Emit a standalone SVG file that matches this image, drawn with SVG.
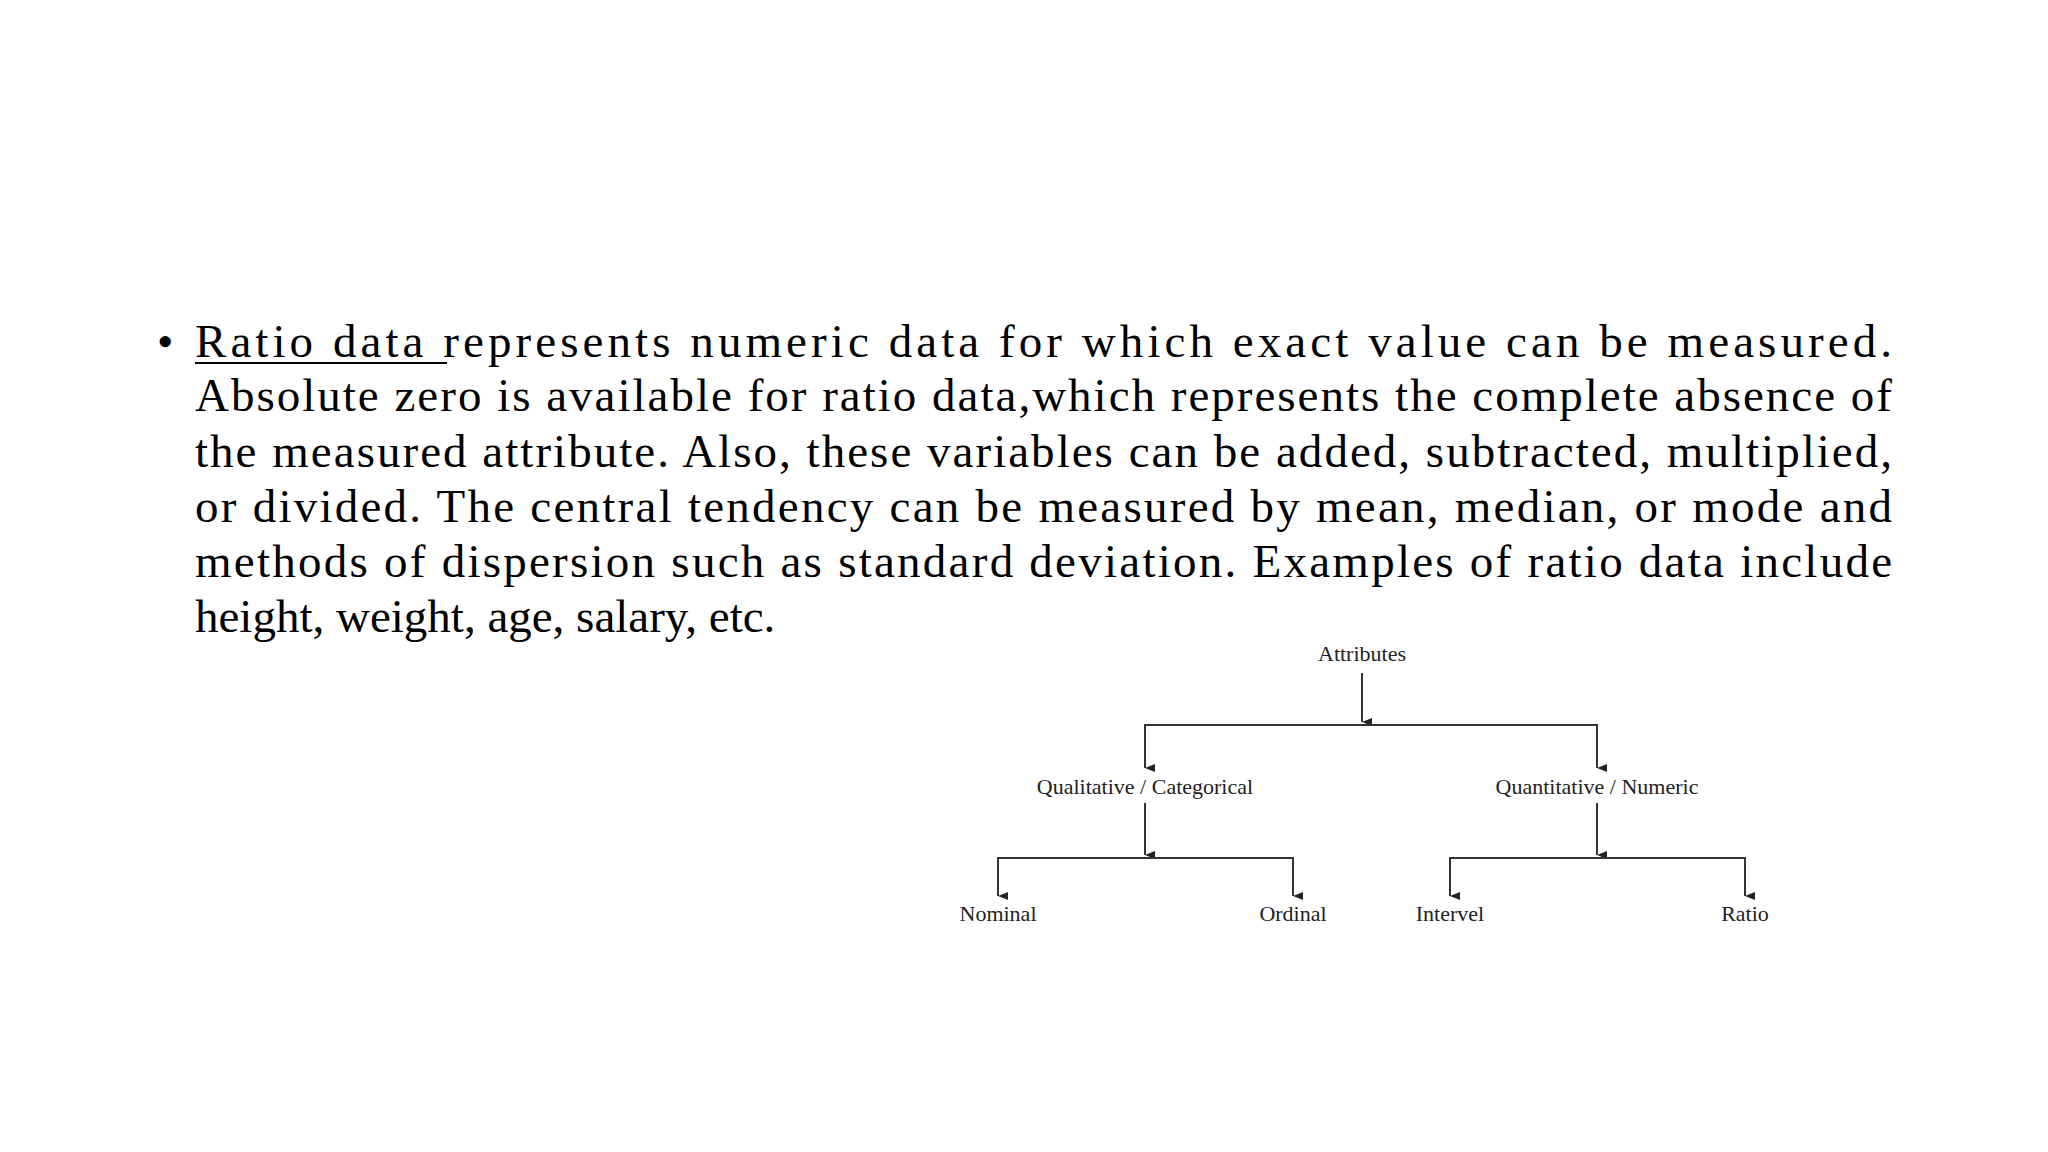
<svg xmlns="http://www.w3.org/2000/svg" width="2048" height="1152" viewBox="0 0 2048 1152">
<style>
.p{font-family:"Liberation Serif",serif;font-size:47px;fill:#000}
.n{font-family:"Liberation Serif",serif;font-size:22px;fill:#222;text-anchor:middle}
.c{stroke:#333;stroke-width:2;fill:none}
</style>
<defs><marker id="a" markerWidth="8" markerHeight="10" refX="4" refY="10" orient="auto-start-reverse" markerUnits="userSpaceOnUse" viewBox="0 0 8 10"><path d="M0,0L8,0L4,10Z" fill="#222" transform="rotate(0)"/></marker></defs>
<rect width="2048" height="1152" fill="#fff"/>
<g id="paragraph">
<text class="p" x="157" y="357">•</text>
<text class="p" x="195" y="357" textLength="1697" lengthAdjust="spacing">Ratio  data  represents numeric data for which exact value can be measured.</text>
<line x1="195" y1="363" x2="447" y2="363" stroke="#000" stroke-width="2"/>
<text class="p" x="195" y="411" textLength="1697" lengthAdjust="spacing">Absolute zero is available for ratio data,which represents the complete absence of</text>
<text class="p" x="195" y="467" textLength="1697" lengthAdjust="spacing">the measured attribute. Also, these variables can be added, subtracted, multiplied,</text>
<text class="p" x="195" y="522" textLength="1697" lengthAdjust="spacing">or divided. The central tendency can be measured by mean, median, or mode and</text>
<text class="p" x="195" y="577" textLength="1697" lengthAdjust="spacing">methods of dispersion such as standard deviation. Examples of ratio data include</text>
<text class="p" x="195" y="632">height, weight, age, salary, etc.</text>
</g>
<g id="attributes"><text class="n" x="1362" y="661">Attributes</text></g>
<g id="qualitative"><text class="n" x="1145" y="794">Qualitative / Categorical</text></g>
<g id="quantitative"><text class="n" x="1597" y="794">Quantitative / Numeric</text></g>
<g id="nominal"><text class="n" x="998" y="921">Nominal</text></g>
<g id="ordinal"><text class="n" x="1293" y="921">Ordinal</text></g>
<g id="intervel"><text class="n" x="1450" y="921">Intervel</text></g>
<g id="ratio"><text class="n" x="1745" y="921">Ratio</text></g>
<g id="connectors">
<path class="c" d="M1362,673V722" marker-end="url(#a)"/>
<path class="c" d="M1145,768V725H1597V768"/>
<path class="c" d="M1145,735V768" marker-end="url(#a)"/>
<path class="c" d="M1597,735V768" marker-end="url(#a)"/>
<path class="c" d="M1145,803V855" marker-end="url(#a)"/>
<path class="c" d="M1597,803V855" marker-end="url(#a)"/>
<path class="c" d="M998,896V858H1293V896"/>
<path class="c" d="M1450,896V858H1745V896"/>
<path class="c" d="M998,870V896" marker-end="url(#a)"/>
<path class="c" d="M1293,870V896" marker-end="url(#a)"/>
<path class="c" d="M1450,870V896" marker-end="url(#a)"/>
<path class="c" d="M1745,870V896" marker-end="url(#a)"/>
</g>
</svg>
